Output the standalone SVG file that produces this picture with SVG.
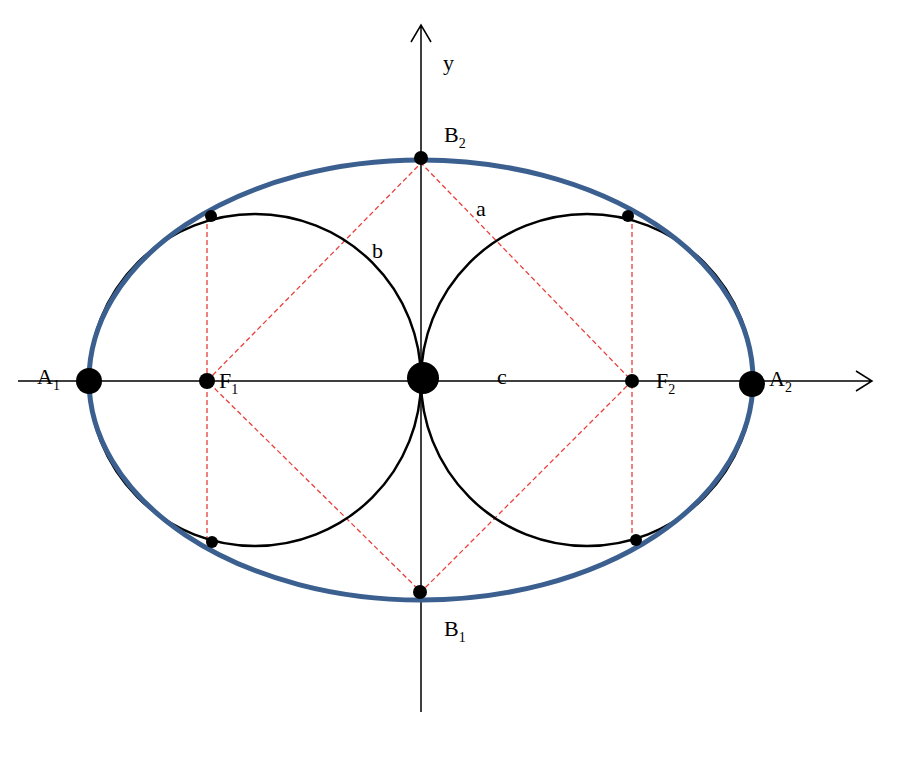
<svg xmlns="http://www.w3.org/2000/svg" width="900" height="768" viewBox="0 0 900 768">
<style>
.ax{stroke:#000;stroke-width:1.5;fill:none}
.ci{stroke:#000;stroke-width:2.5;fill:none}
.rd{stroke:#e8403a;stroke-width:1.3;stroke-dasharray:5,3;fill:none}
.lb{font-family:"Liberation Serif",serif;font-size:22px;fill:#000}
.sb{font-size:14px}
</style>
<rect width="900" height="768" fill="#fff"/>
<g id="connectors">
<path class="ax" d="M18 381H872M856 371L872 381L856 391"/>
<path class="ax" d="M421 712V25M411 42L421 25L431 42"/>
<path class="rd" d="M207 381L421 163L632 381L421 592Z"/>
<path class="rd" d="M207 216V541M632 216V541"/>
</g>
<g id="circles">
<circle class="ci" cx="255" cy="380" r="166"/>
<circle class="ci" cx="587" cy="380" r="166"/>
</g>
<g id="ellipse"><ellipse cx="421" cy="380" rx="332" ry="220" fill="none" stroke="#3b6090" stroke-width="5"/></g>
<g id="points" fill="#000">
<circle cx="89" cy="381" r="13"/>
<circle cx="752" cy="384" r="13"/>
<circle cx="423" cy="378" r="16"/>
<circle cx="207" cy="381" r="8"/>
<circle cx="632" cy="381" r="7"/>
<circle cx="421" cy="158" r="7"/>
<circle cx="420" cy="592" r="7"/>
<circle cx="211" cy="216" r="6"/>
<circle cx="212" cy="542" r="6"/>
<circle cx="628" cy="216" r="6"/>
<circle cx="636" cy="540" r="6"/>
</g>
<g id="labels">
<text class="lb" x="443" y="70">y</text>
<text class="lb" x="444" y="142">B<tspan class="sb" dy="6">2</tspan></text>
<text class="lb" x="476" y="216">a</text>
<text class="lb" x="372" y="258">b</text>
<text class="lb" x="37" y="384">A<tspan class="sb" dy="6">1</tspan></text>
<text class="lb" x="219" y="388">F<tspan class="sb" dy="6">1</tspan></text>
<text class="lb" x="497" y="384">c</text>
<text class="lb" x="656" y="388">F<tspan class="sb" dy="6">2</tspan></text>
<text class="lb" x="769" y="386">A<tspan class="sb" dy="6">2</tspan></text>
<text class="lb" x="444" y="636">B<tspan class="sb" dy="6">1</tspan></text>
</g>
</svg>
